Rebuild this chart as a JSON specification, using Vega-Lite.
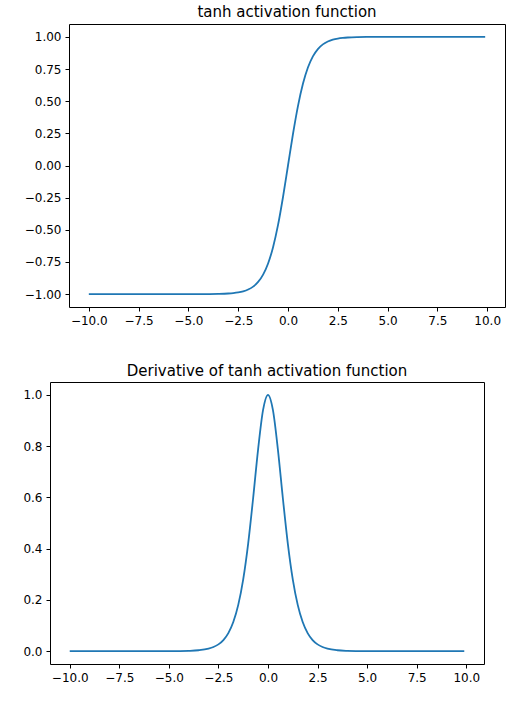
{
  "$schema": "https://vega.github.io/schema/vega-lite/v6.json",
  "background": "white",
  "padding": {"left": 20, "top": 4, "right": 5, "bottom": 5},
  "config": {
    "view": {"stroke": "#000", "strokeWidth": 1},
    "font": "DejaVu Sans",
    "title": {"fontSize": 15, "fontWeight": "normal", "color": "#000", "frame": "group", "anchor": "middle", "baseline": "alphabetic"},
    "axis": {
      "grid": false,
      "domain": false,
      "domainColor": "#000",
      "domainWidth": 1,
      "ticks": true,
      "tickSize": 4,
      "tickColor": "#000",
      "tickWidth": 1,
      "labelFont": "DejaVu Sans",
      "labelFontSize": 12,
      "labelColor": "#000",
      "labelPadding": 4,
      "title": null
    }
  },
  "data": {
    "values": [
      {"x": -10, "t": -1.0, "d": 0.0},
      {"x": -9, "t": -1.0, "d": 0.0},
      {"x": -8, "t": -1.0, "d": 0.0},
      {"x": -7, "t": -1.0, "d": 0.0},
      {"x": -6, "t": -0.99999, "d": 0.00002},
      {"x": -5, "t": -0.99991, "d": 0.00018},
      {"x": -4.5, "t": -0.99975, "d": 0.00049},
      {"x": -4, "t": -0.99933, "d": 0.00134},
      {"x": -3.5, "t": -0.99818, "d": 0.00364},
      {"x": -3, "t": -0.99505, "d": 0.00987},
      {"x": -2.75, "t": -0.99182, "d": 0.0163},
      {"x": -2.5, "t": -0.98661, "d": 0.02659},
      {"x": -2.25, "t": -0.97803, "d": 0.04347},
      {"x": -2, "t": -0.96403, "d": 0.07065},
      {"x": -1.75, "t": -0.94138, "d": 0.11381},
      {"x": -1.5, "t": -0.90515, "d": 0.18071},
      {"x": -1.25, "t": -0.84828, "d": 0.28042},
      {"x": -1, "t": -0.76159, "d": 0.41997},
      {"x": -0.75, "t": -0.63515, "d": 0.59659},
      {"x": -0.5, "t": -0.46212, "d": 0.78645},
      {"x": -0.25, "t": -0.24492, "d": 0.94002},
      {"x": 0, "t": 0.0, "d": 1.0},
      {"x": 0.25, "t": 0.24492, "d": 0.94002},
      {"x": 0.5, "t": 0.46212, "d": 0.78645},
      {"x": 0.75, "t": 0.63515, "d": 0.59659},
      {"x": 1, "t": 0.76159, "d": 0.41997},
      {"x": 1.25, "t": 0.84828, "d": 0.28042},
      {"x": 1.5, "t": 0.90515, "d": 0.18071},
      {"x": 1.75, "t": 0.94138, "d": 0.11381},
      {"x": 2, "t": 0.96403, "d": 0.07065},
      {"x": 2.25, "t": 0.97803, "d": 0.04347},
      {"x": 2.5, "t": 0.98661, "d": 0.02659},
      {"x": 2.75, "t": 0.99182, "d": 0.0163},
      {"x": 3, "t": 0.99505, "d": 0.00987},
      {"x": 3.5, "t": 0.99818, "d": 0.00364},
      {"x": 4, "t": 0.99933, "d": 0.00134},
      {"x": 4.5, "t": 0.99975, "d": 0.00049},
      {"x": 5, "t": 0.99991, "d": 0.00018},
      {"x": 6, "t": 0.99999, "d": 0.00002},
      {"x": 7, "t": 1.0, "d": 0.0},
      {"x": 8, "t": 1.0, "d": 0.0},
      {"x": 9, "t": 1.0, "d": 0.0},
      {"x": 9.9, "t": 1.0, "d": 0.0}
    ]
  },
  "spacing": 37,
  "vconcat": [
    {
      "title": {"text": "tanh activation function", "offset": 4},
      "width": 436,
      "height": 283,
      "mark": {"type": "line", "color": "#1f77b4", "strokeWidth": 1.8, "interpolate": "monotone"},
      "encoding": {
        "x": {
          "field": "x",
          "type": "quantitative",
          "scale": {"domain": [-10.995, 10.895], "nice": false, "zero": false},
          "axis": {"values": [-10, -7.5, -5, -2.5, 0, 2.5, 5, 7.5, 10], "format": ".1f"}
        },
        "y": {
          "field": "t",
          "type": "quantitative",
          "scale": {"domain": [-1.1, 1.1], "nice": false, "zero": false},
          "axis": {"values": [-1, -0.75, -0.5, -0.25, 0, 0.25, 0.5, 0.75, 1], "format": ".2f", "minExtent": 48, "maxExtent": 48}
        }
      }
    },
    {
      "title": {"text": "Derivative of tanh activation function", "offset": 3, "dx": -9.5},
      "width": 415,
      "height": 282,
      "view": {"stroke": null},
      "layer": [
        {
          "mark": {"type": "line", "color": "#1f77b4", "strokeWidth": 1.8, "interpolate": "monotone"},
          "encoding": {
            "x": {
              "field": "x",
              "type": "quantitative",
              "scale": {"domain": [-10.995, 10.895], "range": [-19, 415], "nice": false, "zero": false},
              "axis": {"values": [-10, -7.5, -5, -2.5, 0, 2.5, 5, 7.5, 10], "format": ".1f", "domain": true}
            },
            "y": {
              "field": "d",
              "type": "quantitative",
              "scale": {"domain": [-0.05, 1.05], "nice": false, "zero": false},
              "axis": {"values": [0, 0.2, 0.4, 0.6, 0.8, 1], "format": ".1f", "domain": true, "offset": 19}
            }
          }
        },
        {
          "mark": {"type": "line", "opacity": 0},
          "encoding": {
            "x": {
              "field": "x",
              "type": "quantitative",
              "axis": {"orient": "top", "domain": true, "labels": false, "ticks": false}
            },
            "y": {
              "field": "d",
              "type": "quantitative",
              "axis": {"orient": "right", "domain": true, "labels": false, "ticks": false}
            }
          }
        }
      ],
      "resolve": {"axis": {"x": "independent", "y": "independent"}}
    }
  ]
}
